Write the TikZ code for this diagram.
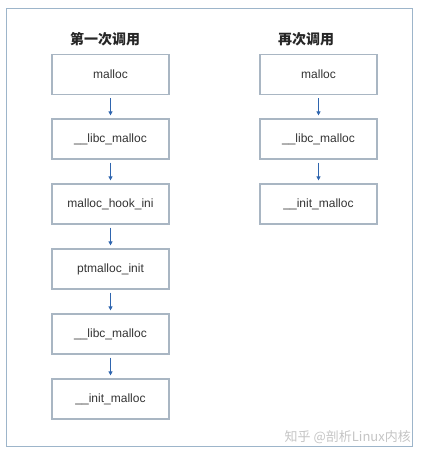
\documentclass[tikz,border=0pt]{standalone}
\usepackage{fontspec}
\setmainfont{Liberation Sans}
\newfontfamily\cjk{Noto Sans CJK SC}
\usetikzlibrary{arrows.meta}
\definecolor{framec}{HTML}{9DB5CA}
\definecolor{boxc}{HTML}{A9B6C3}
\definecolor{arrc}{HTML}{2F65AE}
\definecolor{txtc}{HTML}{333333}
\definecolor{wmc}{HTML}{C4C4C4}
\tikzset{
  fn/.style={draw=boxc, line width=1.2pt, minimum width=117pt, minimum height=40pt, inner sep=0pt, font=\fontsize{12}{14}\selectfont, text=txtc},
  head/.style={font=\cjk\bfseries\fontsize{14}{16}\selectfont, text=black!85},
  call/.style={draw=arrc, line width=0.9pt, -{Triangle[length=4pt,width=4pt]}, shorten <=3pt, shorten >=3pt}
}
\begin{document}
\begin{tikzpicture}[x=1pt,y=-1pt]
\useasboundingbox (0,0) rectangle (423,457);
\node[draw=framec, line width=1.3pt, minimum width=406pt, minimum height=438pt, inner sep=0pt] (frame) at (209.5,227.5) {};
\node[head] (h1) at (105,39) {第一次调用};
\node[head] (h2) at (306,39) {再次调用};
\node[fn] (a1) at (110.5,74.5) {malloc};
\node[fn] (a2) at (110.5,139) {\_\_libc\_malloc};
\node[fn] (a3) at (110.5,204) {malloc\_hook\_ini};
\node[fn] (a4) at (110.5,269) {ptmalloc\_init};
\node[fn] (a5) at (110.5,334) {\_\_libc\_malloc};
\node[fn] (a6) at (110.5,399) {\_\_init\_malloc};
\node[fn] (b1) at (318.5,74.5) {malloc};
\node[fn] (b2) at (318.5,139) {\_\_libc\_malloc};
\node[fn] (b3) at (318.5,204) {\_\_init\_malloc};
\draw[call] (a1) -- (a2);
\draw[call] (a2) -- (a3);
\draw[call] (a3) -- (a4);
\draw[call] (a4) -- (a5);
\draw[call] (a5) -- (a6);
\draw[call] (b1) -- (b2);
\draw[call] (b2) -- (b3);
\node[anchor=east, text=wmc, font=\cjk\fontsize{13}{15}\selectfont, inner sep=0pt] (wm) at (411,437) {知乎 @剖析Linux内核};
\end{tikzpicture}
\end{document}
